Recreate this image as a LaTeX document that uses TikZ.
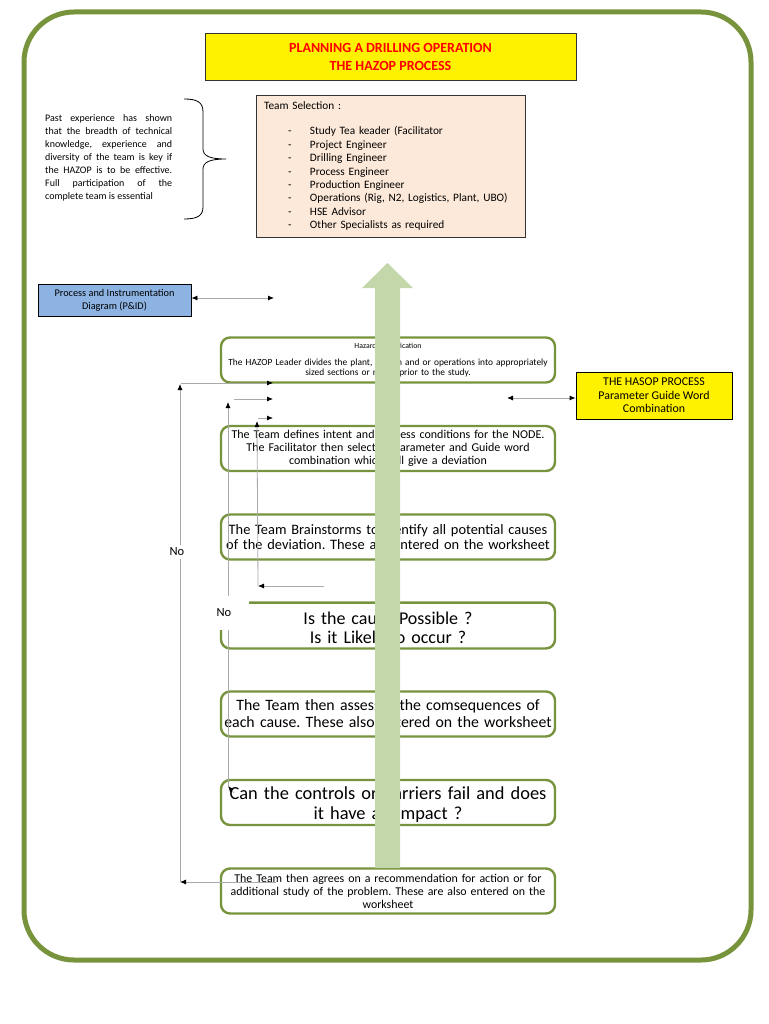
\documentclass[tikz,border=0pt]{standalone}
\usepackage{fontspec}
\setmainfont{Carlito}
\usetikzlibrary{arrows.meta}
\usetikzlibrary{positioning}
\frenchspacing
\definecolor{framegreen}{RGB}{119,147,60}
\definecolor{arrowgreen}{RGB}{196,215,170}
\definecolor{peach}{RGB}{253,233,217}
\definecolor{pidblue}{RGB}{141,179,226}
\definecolor{hazred}{RGB}{255,0,0}
\definecolor{linkgray}{RGB}{170,170,170}
\tikzstyle{titlebox} = [rectangle, minimum width=371pt, minimum height=47pt, text centered, draw=black!80, fill=yellow, text=hazred, font=\fontsize{14}{18}\selectfont\bfseries, align=center]
\tikzstyle{teambox} = [rectangle, minimum width=269pt, minimum height=142pt, text width=253pt, inner xsep=8pt, draw=black!80, fill=peach, font=\fontsize{11.3}{13.4}\selectfont, align=left]
\tikzstyle{notebox} = [rectangle, text width=127pt, inner sep=0pt, align=justify, font=\fontsize{10}{13.1}\selectfont]
\tikzstyle{sidebox} = [rectangle, text centered, draw=black, line width=0.8pt, align=center]
\tikzstyle{hazbox} = [rectangle, rounded corners=9pt, minimum width=334pt, minimum height=45pt, text width=330pt, inner xsep=2pt, inner ysep=2pt, align=center, draw=framegreen, line width=2.4pt]
\tikzstyle{link} = [draw=linkgray, line width=0.8pt, -{Latex[black,length=6pt,width=5pt]}]
\tikzstyle{twoway} = [draw=linkgray, line width=0.8pt, {Latex[black,length=6pt,width=5pt]}-{Latex[black,length=6pt,width=5pt]}]
\tikzstyle{nolabel} = [fill=white, font=\fontsize{12.5}{14}\selectfont]
\newcommand{\teamitem}[1]{\makebox[46pt][l]{\hspace{24pt}-}#1}

\begin{document}
\begin{tikzpicture}[x=1pt, y=-1pt, node distance=88.5pt]
            \useasboundingbox (0,0) rectangle (768,1024);
            % outer frame
            \draw[framegreen, line width=5pt, rounded corners=50pt] (24,12) rectangle (751,960);
            \node[titlebox] (title) at (390.5,56.5) {PLANNING A DRILLING OPERATION\\THE HAZOP PROCESS};
            \node[teambox] (team) at (390.5,166) {Team Selection :\\[12pt]
                \teamitem{Study Tea keader (Facilitator}\\
                \teamitem{Project Engineer}\\
                \teamitem{Drilling Engineer}\\
                \teamitem{Process Engineer}\\
                \teamitem{Production Engineer}\\
                \teamitem{Operations (Rig, N2, Logistics, Plant, UBO)}\\
                \teamitem{HSE Advisor}\\
                \teamitem{Other Specialists as required}};
            \node[notebox, anchor=north west] (note) at (45,114) {Past experience has shown\linebreak that the breadth of technical\linebreak knowledge, experience and\linebreak diversity of the team is key if\linebreak the HAZOP is to be effective.\linebreak Full participation of the\linebreak complete team is essential};
            % brace
            \draw[line width=0.8pt] (184,99) .. controls (197,99) and (203,102) .. (203,112) -- (203,149) .. controls (203,156) and (210,159) .. (226,159) .. controls (210,159) and (203,162) .. (203,169) -- (203,207) .. controls (203,216) and (197,219) .. (184,219);
            \node[sidebox, fill=pidblue, minimum width=153pt, minimum height=32pt, font=\fontsize{10.3}{13}\selectfont] (pid) at (114.5,300) {Process and Instrumentation\\Diagram (P\&ID)};
            \node[sidebox, fill=yellow, minimum width=156pt, minimum height=47pt, font=\fontsize{11.9}{13.5}\selectfont] (hasop) at (654,395.5) {THE HASOP PROCESS\\Parameter Guide Word\\Combination};
            % steps
            \node[hazbox, font=\fontsize{9.4}{10}\selectfont] (hz1) at (388,360) {{\fontsize{7.8}{8}\selectfont Hazard Identification}\\[7pt]The HAZOP Leader divides the plant, system and or operations into appropriately\\sized sections or nodes prior to the study.};
            \node[hazbox, below of=hz1, font=\fontsize{12}{13}\selectfont] (hz2) {The Team defines intent and process conditions for the NODE.\\The Facilitator then selects a Parameter and Guide word\\combination which will give a deviation};
            \node[hazbox, below of=hz2, font=\fontsize{14.4}{15}\selectfont] (hz3) {The Team Brainstorms to identify all potential causes\\of the deviation. These are entered on the worksheet};
            \node[hazbox, below of=hz3, font=\fontsize{18}{19}\selectfont] (hz4) {\rule{0pt}{20pt}Is the cause Possible ?\\Is it Likely to occur ?};
            \node[hazbox, below of=hz4, font=\fontsize{15.8}{17}\selectfont] (hz5) {The Team then assesses the comsequences of\\each cause. These also entered on the worksheet};
            \node[hazbox, below of=hz5, font=\fontsize{18.4}{20}\selectfont] (hz6) {\rule{0pt}{17pt}Can the controls or barriers fail and does\\it have an impact ?};
            \node[hazbox, below of=hz6, font=\fontsize{11.9}{13}\selectfont] (hz7) {The Team then agrees on a recommendation for action or for\\additional study of the problem. These are also entered on the\\worksheet};
            % big arrow
            \fill[arrowgreen] (375,868) -- (375,288) -- (362,288) -- (387.5,263) -- (413,288) -- (400,288) -- (400,868) -- cycle;
            % connectors
            \coordinate (pidend) at (274,298);
            \coordinate (hasend) at (507,398);
            \draw[twoway] (pidend -| pid.east) -- (pidend);
            \draw[twoway] (hasend) -- (hasend -| hasop.west);
            \coordinate (noA) at (276,882);
            \coordinate (noB) at (180,882);
            \coordinate (noC) at (180,384);
            \coordinate (noD) at (181,383);
            \coordinate (noE) at (273,383);
            \draw[link] (noA) -- (noB);
            \draw[link] (noB) -- (noC);
            \draw[link] (noD) -- (noE);
            \coordinate (mdA) at (228,786);
            \coordinate (mdB) at (228,402);
            \coordinate (mdC) at (234,399);
            \coordinate (mdD) at (273,399);
            \coordinate (mdE) at (234,793);
            \draw[link] (mdA) -- (mdB);
            \draw[link] (mdC) -- (mdD);
            \draw[link] (mdE) -- (mdA);
            \coordinate (inA) at (324,586);
            \coordinate (inB) at (258,586);
            \coordinate (inD) at (257,421);
            \coordinate (inE) at (258,418);
            \coordinate (inF) at (273,418);
            \draw[link] (inA) -- (inB);
            \draw[link] (inB) -- (inD);
            \draw[link] (inE) -- (inF);
            \node[nolabel] (no1) at (177,552) {No};
            \node[nolabel, minimum width=50pt, minimum height=34pt] (no2) at (224,613) {No};
        \end{tikzpicture}
\end{document}
